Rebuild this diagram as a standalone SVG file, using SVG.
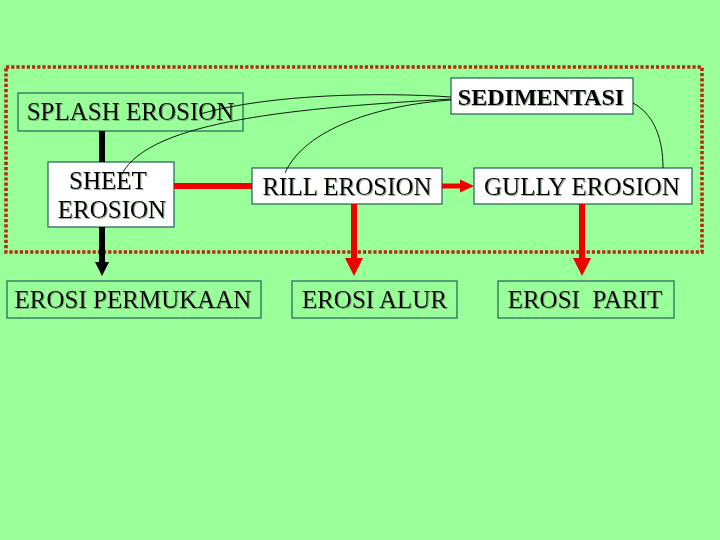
<svg xmlns="http://www.w3.org/2000/svg" width="720" height="540" viewBox="0 0 720 540">
  <style>
    .box { stroke: #2f6a60; stroke-width: 1.3; }
    .w { fill: #ffffff; }
    .g { fill: #99ff99; }
    .t { font-family: "Liberation Serif", "Times New Roman", serif; font-size: 25px; fill: #000; text-anchor: middle; filter: url(#sh); }
    .b { font-weight: bold; font-size: 24px; }
    .thin { fill: none; stroke: #000; stroke-width: 0.9; }
    .red { stroke: #ee0000; stroke-width: 6; fill: none; }
    .blk { stroke: #000; stroke-width: 6; fill: none; }
  </style>
  <defs>
    <filter id="sh" x="-5%" y="-20%" width="110%" height="140%">
      <feDropShadow dx="1" dy="1" stdDeviation="0.4" flood-color="#6a8a6a" flood-opacity="0.7"/>
    </filter>
    <marker id="hr" markerUnits="userSpaceOnUse" markerWidth="20" markerHeight="20" refX="0" refY="0" orient="auto" overflow="visible">
      <path d="M0,-9 L18,0 L0,9 Z" fill="#ee0000"/>
    </marker>
    <marker id="hr2" markerUnits="userSpaceOnUse" markerWidth="20" markerHeight="20" refX="0" refY="0" orient="auto" overflow="visible">
      <path d="M0,-6.5 L14,0 L0,6.5 Z" fill="#ee0000"/>
    </marker>
    <marker id="hb" markerUnits="userSpaceOnUse" markerWidth="20" markerHeight="20" refX="0" refY="0" orient="auto" overflow="visible">
      <path d="M0,-7 L14,0 L0,7 Z" fill="#000"/>
    </marker>
  </defs>
  <rect x="0" y="0" width="720" height="540" fill="#99ff99"/>
  <rect id="frame" x="6" y="67" width="696" height="185" fill="none" stroke="#b8280c" stroke-width="3.6" stroke-dasharray="3.2 2"/>

  <g id="splash">
    <rect class="box g" x="18" y="93" width="225" height="38"/>
    <text class="t" x="130.5" y="120">SPLASH EROSION</text>
  </g>
  <g id="sheet">
    <rect class="box w" x="48" y="162" width="126" height="65"/>
    <text class="t" x="108" y="189">SHEET</text>
    <text class="t" x="112" y="218">EROSION</text>
  </g>
  <g id="rill">
    <rect class="box w" x="252" y="168" width="190" height="36"/>
    <text class="t" x="347" y="195">RILL EROSION</text>
  </g>
  <g id="gully">
    <rect class="box w" x="474" y="168" width="218" height="36"/>
    <text class="t" x="582" y="195">GULLY EROSION</text>
  </g>
  <g id="sedimentasi">
    <rect class="box w" x="451" y="78" width="182" height="36"/>
    <text class="t b" x="541" y="105">SEDIMENTASI</text>
  </g>
  <g id="permukaan">
    <rect class="box g" x="7" y="281" width="254" height="37"/>
    <text class="t" x="133" y="308">EROSI PERMUKAAN</text>
  </g>
  <g id="alur">
    <rect class="box g" x="292" y="281" width="165" height="37"/>
    <text class="t" x="374.5" y="308">EROSI ALUR</text>
  </g>
  <g id="parit">
    <rect class="box g" x="498" y="281" width="176" height="37"/>
    <text class="t" x="585" y="308">EROSI&#160; PARIT</text>
  </g>

  <g id="connectors">
    <line class="blk" x1="102" y1="131" x2="102" y2="162"/>
    <line class="blk" x1="102" y1="227" x2="102" y2="262" marker-end="url(#hb)"/>
    <line class="red" x1="174" y1="186" x2="252" y2="186"/>
    <line class="red" x1="442" y1="186" x2="460" y2="186" style="stroke-width:5" marker-end="url(#hr2)"/>
    <line class="red" x1="354" y1="204" x2="354" y2="258" marker-end="url(#hr)"/>
    <line class="red" x1="582" y1="204" x2="582" y2="258" marker-end="url(#hr)"/>
    <path class="thin" d="M451,97 C380,92 270,94 200,114"/>
    <path class="thin" d="M451,99 C300,108 150,120 122,174"/>
    <path class="thin" d="M451,100 C380,105 305,128 285,173"/>
    <path class="thin" d="M633,103 C655,115 663,140 663,168"/>
  </g>
</svg>
